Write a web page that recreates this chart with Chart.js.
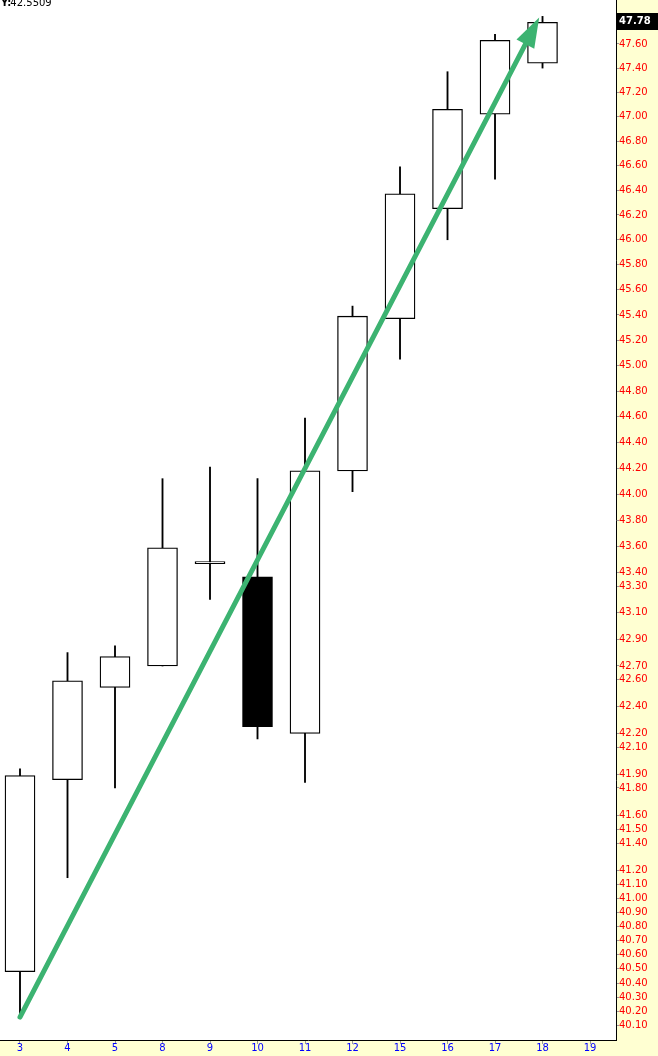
<!DOCTYPE html>
<html>
<head>
<meta charset="utf-8">
<script src="https://cdn.jsdelivr.net/npm/chart.js@4.4.0/dist/chart.umd.min.js"></script>
<style>
  html, body { margin: 0; padding: 0; background: #fff; }
  canvas { display: block; }
</style>
</head>
<body>
<canvas id="chart" width="658" height="1056"></canvas>
<script>
// day-of-month labels along the bottom (19 has no candle yet)
const dates = ['3', '4', '5', '8', '9', '10', '11', '12', '15', '16', '17', '18', '19'];

// OHLC
const open  = [40.48, 41.86, 42.54, 42.70, 43.47, 43.37, 42.20, 44.18, 45.37, 46.25, 47.02, 47.44];
const high  = [41.94, 42.80, 42.85, 44.12, 44.21, 44.12, 44.59, 45.47, 46.59, 47.37, 47.68, 47.83];
const low   = [40.16, 41.15, 41.80, 42.70, 43.20, 42.16, 41.84, 44.02, 45.05, 46.00, 46.49, 47.40];
const close = [41.89, 42.59, 42.77, 43.59, 43.47, 42.25, 44.18, 45.39, 46.37, 47.06, 47.63, 47.78];

// price labels on the right axis
const yTicks = [47.6, 47.4, 47.2, 47.0, 46.8, 46.6, 46.4, 46.2, 46.0, 45.8, 45.6, 45.4, 45.2,
  45.0, 44.8, 44.6, 44.4, 44.2, 44.0, 43.8, 43.6, 43.4, 43.3, 43.1, 42.9, 42.7, 42.6,
  42.4, 42.2, 42.1, 41.9, 41.8, 41.6, 41.5, 41.4, 41.2, 41.1, 41.0, 40.9, 40.8, 40.7,
  40.6, 40.5, 40.4, 40.3, 40.2, 40.1];

// trend arrow (x in candle index units, y in price)
const arrowX = [0, 10.93];
const arrowY = [40.16, 47.82];

// crosshair readout in the top left corner
const cursorLabel = 'Y:';
const cursorValue = '42.5509';

const bodies = open.map((o, i) => ({ x: i, y: [o, close[i]] }));
const wicks = low.map((l, i) => ({ x: i, y: [l, high[i]] }));
const bodyFill = open.map((o, i) => (close[i] < o ? '#000000' : '#ffffff'));
const arrowPts = arrowX.map((x, i) => ({ x: x, y: arrowY[i] }));

const HEAD_LEN = 30, HEAD_HALF = 10;

function arrowGeom(chart) {
  const pts = chart.getDatasetMeta(2).data;
  const p0 = pts[0], p1 = pts[pts.length - 1];
  const dx = p1.x - p0.x, dy = p1.y - p0.y;
  const len = Math.hypot(dx, dy);
  const ux = dx / len, uy = dy / len;
  return { tip: p1, ux, uy, px: -uy, py: ux,
           bx: p1.x - ux * HEAD_LEN, by: p1.y - uy * HEAD_LEN };
}

const decor = {
  id: 'decor',
  beforeDraw(chart) {
    const { ctx, chartArea: a } = chart;
    ctx.save();
    ctx.fillStyle = '#ffffd2';
    ctx.fillRect(0, 0, chart.width, chart.height);
    ctx.fillStyle = '#ffffff';
    ctx.fillRect(a.left, a.top, a.right - a.left, a.bottom - a.top);
    ctx.restore();
  },
  beforeDatasetDraw(chart, args) {
    if (args.index !== 2) return;
    // keep the shaft behind the arrow head base
    const g = arrowGeom(chart);
    const ctx = chart.ctx;
    const ex = g.bx + g.ux * 3, ey = g.by + g.uy * 3, B = 3000;
    ctx.save();
    ctx.beginPath();
    ctx.moveTo(ex + g.px * B, ey + g.py * B);
    ctx.lineTo(ex - g.px * B, ey - g.py * B);
    ctx.lineTo(ex - g.px * B - g.ux * B, ey - g.py * B - g.uy * B);
    ctx.lineTo(ex + g.px * B - g.ux * B, ey + g.py * B - g.uy * B);
    ctx.closePath();
    ctx.clip();
  },
  afterDatasetDraw(chart, args) {
    if (args.index !== 2) return;
    const ctx = chart.ctx;
    ctx.restore();
    const g = arrowGeom(chart);
    ctx.save();
    ctx.fillStyle = '#3cb371';
    ctx.beginPath();
    ctx.moveTo(g.tip.x, g.tip.y);
    ctx.lineTo(g.bx + g.px * HEAD_HALF, g.by + g.py * HEAD_HALF);
    ctx.lineTo(g.bx - g.px * HEAD_HALF, g.by - g.py * HEAD_HALF);
    ctx.closePath();
    ctx.fill();
    ctx.restore();
  },
  afterDraw(chart) {
    const { ctx, chartArea: a } = chart;
    const last = close[close.length - 1];
    const y = chart.scales.y.getPixelForValue(last);
    ctx.save();
    ctx.fillStyle = '#000000';
    ctx.fillRect(a.right, Math.round(y) - 9, chart.width - a.right, 17);
    ctx.fillStyle = '#ffffff';
    ctx.font = 'bold 10px "DejaVu Sans"';
    ctx.textBaseline = 'middle';
    ctx.textAlign = 'left';
    ctx.fillText(last.toFixed(2), a.right + 3, Math.round(y) - 0.5);

    ctx.fillStyle = '#000000';
    ctx.textBaseline = 'alphabetic';
    ctx.font = 'bold 10px "DejaVu Sans"';
    ctx.fillText(cursorLabel, 1, 6);
    const w = ctx.measureText(cursorLabel).width;
    ctx.font = '10px "DejaVu Sans"';
    ctx.fillText(cursorValue, 1 + w - 1, 6);
    ctx.restore();
  }
};

new Chart(document.getElementById('chart'), {
  data: {
    datasets: [
      {
        type: 'bar', label: 'wick', data: wicks,
        backgroundColor: '#000000', borderWidth: 0,
        barThickness: 1.2, grouped: false, order: 3
      },
      {
        type: 'bar', label: 'body', data: bodies,
        backgroundColor: bodyFill, borderColor: '#000000', borderWidth: 1.3,
        borderSkipped: false, barThickness: 30, grouped: false, order: 2,
        minBarLength: 2
      },
      {
        type: 'line', label: 'arrow', data: arrowPts,
        borderColor: '#3cb371', borderWidth: 5, borderCapStyle: 'round',
        pointRadius: 0, tension: 0, order: 1, clip: false
      }
    ]
  },
  options: {
    responsive: false,
    animation: false,
    layout: { padding: 0 },
    plugins: { legend: { display: false }, tooltip: { enabled: false } },
    scales: {
      x: {
        type: 'linear', position: 'bottom', min: -0.421, max: 12.547, bounds: 'data',
        offset: false,
        afterBuildTicks: s => { s.ticks = dates.map((_, i) => ({ value: i })); },
        afterFit: s => { s.height = 16; s.paddingLeft = 0; s.paddingRight = 0; },
        grid: { drawOnChartArea: false, drawTicks: true, tickLength: 4, tickColor: '#999999', offset: false },
        border: { display: true, color: '#000000', width: 1 },
        ticks: {
          color: '#0000ff', font: { family: 'DejaVu Sans', size: 10 },
          padding: -2, autoSkip: false, maxRotation: 0,
          callback: v => dates[v]
        }
      },
      y: {
        type: 'logarithmic', position: 'right', min: 40.0, max: 47.967, bounds: 'data',
        afterBuildTicks: s => { s.ticks = yTicks.map(v => ({ value: v })); },
        afterFit: s => { s.width = 42; s.paddingTop = 0; s.paddingBottom = 0; },
        grid: { drawOnChartArea: false, drawTicks: true, tickLength: 3, tickColor: '#999999' },
        border: { display: true, color: '#000000', width: 1 },
        ticks: {
          color: '#ff0000', font: { family: 'DejaVu Sans', size: 10 },
          padding: 0, autoSkip: false,
          callback: v => Number(v).toFixed(2)
        }
      }
    }
  },
  plugins: [decor]
});
</script>
</body>
</html>
